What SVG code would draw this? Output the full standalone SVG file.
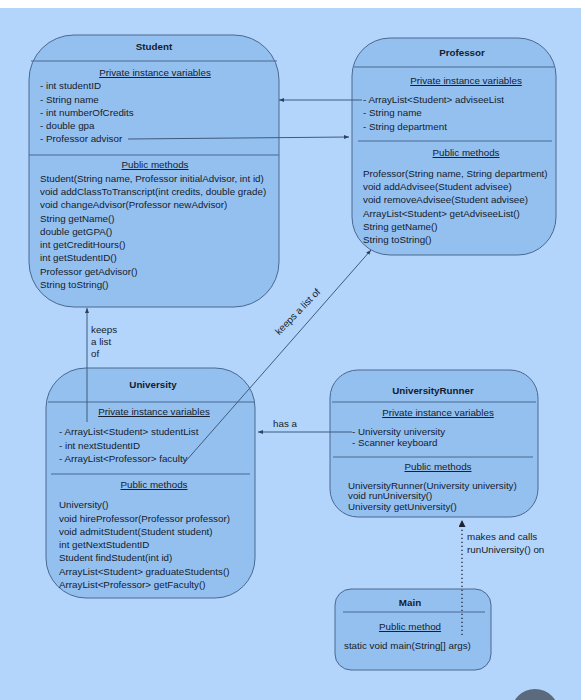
<svg xmlns="http://www.w3.org/2000/svg" width="585" height="700" viewBox="0 0 585 700">
<defs>
<style>
.node{fill:#94c0f0;stroke:#4a6890;stroke-width:1}
.div{stroke:#4a6890;stroke-width:1}
text{font-family:"Liberation Sans",Arial,sans-serif;font-size:9.8px;fill:#141c2c}
.t{font-weight:bold;text-anchor:middle}
.h{text-anchor:middle;text-decoration:underline}
.c{stroke:#3f5a7e;stroke-width:1;fill:none}
</style>
<marker id="ah" viewBox="0 0 10 10" refX="10" refY="5" markerWidth="5" markerHeight="5" orient="auto">
<path d="M0,1 L10,5 L0,9 z" fill="#2d4160"/>
</marker>
<marker id="ab" viewBox="0 0 10 10" refX="10" refY="5" markerWidth="10" markerHeight="7" orient="auto" markerUnits="userSpaceOnUse">
<path d="M0,0 L10,5 L0,10 z" fill="#1c2434"/>
</marker>
</defs>
<rect x="0" y="0" width="585" height="700" fill="#ffffff"/>
<rect x="0" y="8" width="581" height="692" fill="#b3d5fc"/>
<circle cx="535" cy="713" r="24" fill="#5b6b7d"/>

<g id="student">
<rect class="node" x="29" y="35" width="250" height="272" rx="45" ry="45"/>
<text class="t" x="154" y="50">Student</text>
<line class="div" x1="31" y1="61" x2="277" y2="61"/>
<text class="h" x="155" y="76">Private instance variables</text>
<text x="40" y="89">- int studentID</text>
<text x="40" y="103">- String name</text>
<text x="40" y="116">- int numberOfCredits</text>
<text x="40" y="129">- double gpa</text>
<text x="40" y="142">- Professor advisor</text>
<line class="div" x1="29" y1="155" x2="279" y2="155"/>
<text class="h" x="155" y="168">Public methods</text>
<text x="40" y="182">Student(String name, Professor initialAdvisor, int id)</text>
<text x="40" y="195">void addClassToTranscript(int credits, double grade)</text>
<text x="40" y="208">void changeAdvisor(Professor newAdvisor)</text>
<text x="40" y="222">String getName()</text>
<text x="40" y="235">double getGPA()</text>
<text x="40" y="248">int getCreditHours()</text>
<text x="40" y="261">int getStudentID()</text>
<text x="40" y="275">Professor getAdvisor()</text>
<text x="40" y="288">String toString()</text>
</g>

<g id="professor">
<rect class="node" x="352" y="38" width="204" height="217" rx="38" ry="38"/>
<text class="t" x="462" y="56">Professor</text>
<line class="div" x1="354" y1="67" x2="554" y2="67"/>
<text class="h" x="466" y="84">Private instance variables</text>
<text x="363" y="103">- ArrayList&lt;Student&gt; adviseeList</text>
<text x="363" y="116">- String name</text>
<text x="363" y="130">- String department</text>
<line class="div" x1="358" y1="141" x2="552" y2="141"/>
<text class="h" x="466" y="156">Public methods</text>
<text x="363" y="177">Professor(String name, String department)</text>
<text x="363" y="190">void addAdvisee(Student advisee)</text>
<text x="363" y="203">void removeAdvisee(Student advisee)</text>
<text x="363" y="217">ArrayList&lt;Student&gt; getAdviseeList()</text>
<text x="363" y="230">String getName()</text>
<text x="363" y="243">String toString()</text>
</g>

<g id="university">
<rect class="node" x="46" y="368" width="209" height="230" rx="40" ry="40"/>
<text class="t" x="153" y="388">University</text>
<line class="div" x1="48" y1="402" x2="255" y2="402"/>
<text class="h" x="154" y="415">Private instance variables</text>
<text x="59" y="435">- ArrayList&lt;Student&gt; studentList</text>
<text x="59" y="449">- int nextStudentID</text>
<text x="59" y="462">- ArrayList&lt;Professor&gt; faculty</text>
<line class="div" x1="51" y1="474" x2="250" y2="474"/>
<text class="h" x="154" y="488">Public methods</text>
<text x="59" y="508">University()</text>
<text x="59" y="522">void hireProfessor(Professor professor)</text>
<text x="59" y="535">void admitStudent(Student student)</text>
<text x="59" y="548">int getNextStudentID</text>
<text x="59" y="561">Student findStudent(int id)</text>
<text x="59" y="575">ArrayList&lt;Student&gt; graduateStudents()</text>
<text x="59" y="588">ArrayList&lt;Professor&gt; getFaculty()</text>
</g>

<g id="universityrunner">
<rect class="node" x="330" y="370" width="208" height="147" rx="28" ry="28"/>
<text class="t" x="433" y="394">UniversityRunner</text>
<line class="div" x1="332" y1="402" x2="536" y2="402"/>
<text class="h" x="438" y="416">Private instance variables</text>
<text x="352" y="435">- University university</text>
<text x="352" y="446">- Scanner keyboard</text>
<line class="div" x1="333" y1="457" x2="533" y2="457"/>
<text class="h" x="438" y="470">Public methods</text>
<text x="348" y="489">UniversityRunner(University university)</text>
<text x="348" y="499">void runUniversity()</text>
<text x="348" y="510">University getUniversity()</text>
</g>

<g id="main">
<rect class="node" x="335" y="589" width="156" height="81" rx="16" ry="16"/>
<text class="t" x="410" y="606">Main</text>
<line class="div" x1="343" y1="612" x2="485" y2="612"/>
<text class="h" x="410" y="630">Public method</text>
<text x="344" y="649">static void main(String[] args)</text>
</g>

<g id="connectors">
<line class="c" x1="362" y1="100" x2="279" y2="100" marker-end="url(#ah)"/>
<line class="c" x1="128" y1="139" x2="349" y2="137" marker-end="url(#ah)"/>
<line class="c" x1="87" y1="422" x2="87" y2="308" marker-end="url(#ah)"/>
<text x="91" y="333">keeps</text>
<text x="91" y="345">a list</text>
<text x="91" y="357">of</text>
<line class="c" x1="185" y1="462" x2="371" y2="250" marker-end="url(#ah)"/>
<text transform="translate(300,314) rotate(-46)" text-anchor="middle">keeps a list of</text>
<line class="c" x1="352" y1="432" x2="258" y2="432" marker-end="url(#ah)"/>
<text x="273" y="427">has a</text>
<line x1="462" y1="635" x2="462" y2="520" stroke="#1c2434" stroke-width="1.3" stroke-dasharray="1.3 2.7" marker-end="url(#ab)"/>
<text x="467" y="540">makes and calls</text>
<text x="467" y="553">runUniversity() on</text>
</g>
</svg>
